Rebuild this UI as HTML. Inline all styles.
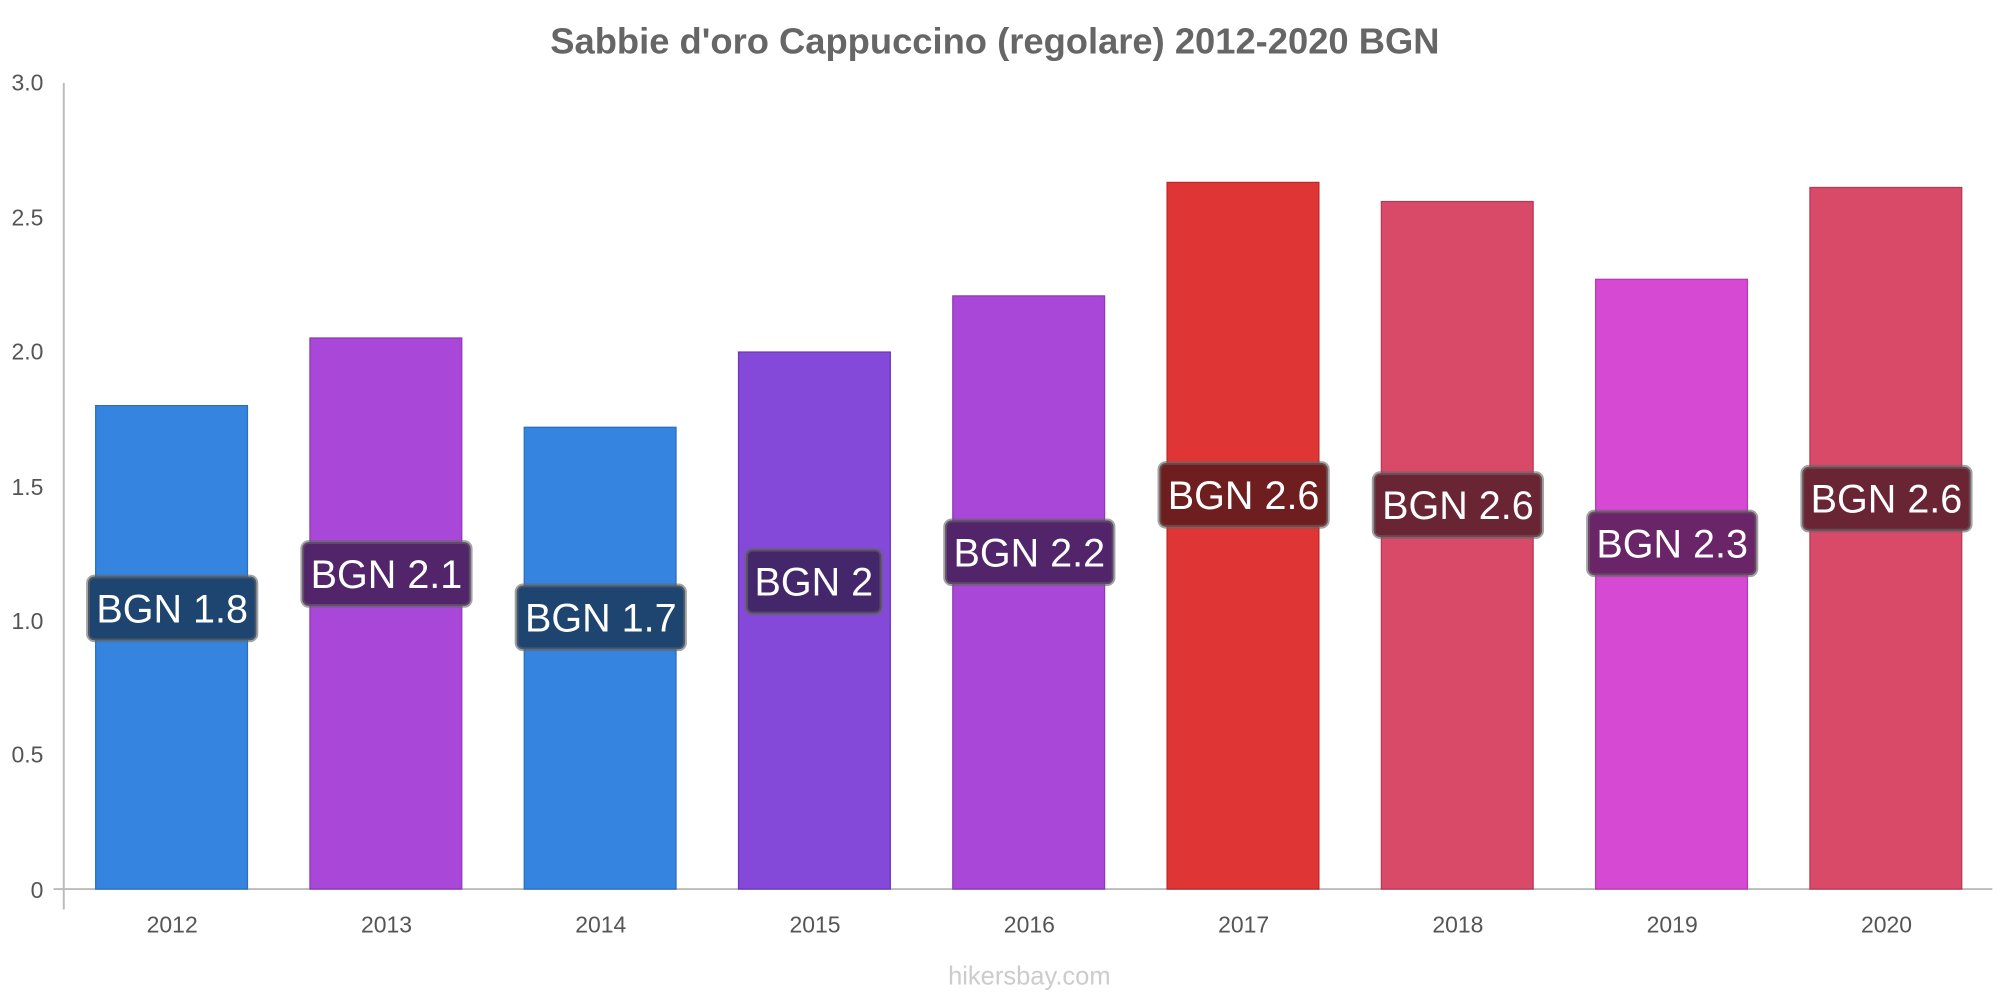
<!DOCTYPE html>
<html><head><meta charset="utf-8"><style>html,body{margin:0;padding:0;background:#fff}svg{display:block}</style></head>
<body>
<svg width="2000" height="1000" viewBox="0 0 1568 784" xmlns="http://www.w3.org/2000/svg" font-family="Liberation Sans, sans-serif">
<rect width="1568" height="784" fill="#fff"/>
<text x="780" y="42" text-anchor="middle" font-size="28.5" font-weight="bold" fill="#666">Sabbie d'oro Cappuccino (regolare) 2012-2020 BGN</text>
<g font-size="18" fill="#555" text-anchor="end">
<text x="34" y="71">3.0</text><text x="34" y="177">2.5</text><text x="34" y="282">2.0</text><text x="34" y="388">1.5</text><text x="34" y="493">1.0</text><text x="34" y="598">0.5</text><text x="34" y="704">0</text>
</g>
<line x1="50" y1="65" x2="50" y2="713" stroke="#bbb" stroke-width="1.5"/>
<line x1="42" y1="697" x2="1562" y2="697" stroke="#bbb" stroke-width="1.5"/>
<g>
<rect x="75" y="318" width="119" height="379" fill="#3584e0" stroke="#2a6fc0"/>
<rect x="243" y="265" width="119" height="432" fill="#a948d8" stroke="#8e38b8"/>
<rect x="411" y="335" width="119" height="362" fill="#3584e0" stroke="#2a6fc0"/>
<rect x="579" y="276" width="119" height="421" fill="#8449d8" stroke="#6a38b8"/>
<rect x="747" y="232" width="119" height="465" fill="#a948d8" stroke="#8e38b8"/>
<rect x="915" y="143" width="119" height="554" fill="#e03535" stroke="#c02828"/>
<rect x="1083" y="158" width="119" height="539" fill="#d84a68" stroke="#b83a55"/>
<rect x="1251" y="219" width="119" height="478" fill="#d649d3" stroke="#b838b5"/>
<rect x="1419" y="147" width="119" height="550" fill="#d84a68" stroke="#b83a55"/>
</g>
<g font-size="31" fill="#fff" text-anchor="middle">
<rect x="69" y="452" width="132" height="50" rx="5" fill="#1e4470" stroke="#666" stroke-width="3" stroke-opacity="0.6"/><text x="135" y="488">BGN 1.8</text>
<rect x="237" y="425" width="132" height="50" rx="5" fill="#52256a" stroke="#666" stroke-width="3" stroke-opacity="0.6"/><text x="303" y="461">BGN 2.1</text>
<rect x="405" y="459" width="132" height="50" rx="5" fill="#1e4470" stroke="#666" stroke-width="3" stroke-opacity="0.6"/><text x="471" y="495">BGN 1.7</text>
<rect x="585" y="431" width="106" height="50" rx="5" fill="#43276a" stroke="#666" stroke-width="3" stroke-opacity="0.6"/><text x="638" y="467">BGN 2</text>
<rect x="741" y="408" width="132" height="50" rx="5" fill="#52256a" stroke="#666" stroke-width="3" stroke-opacity="0.6"/><text x="807" y="444">BGN 2.2</text>
<rect x="909" y="363" width="132" height="50" rx="5" fill="#6e1e1e" stroke="#666" stroke-width="3" stroke-opacity="0.6"/><text x="975" y="399">BGN 2.6</text>
<rect x="1077" y="371" width="132" height="50" rx="5" fill="#6a2535" stroke="#666" stroke-width="3" stroke-opacity="0.6"/><text x="1143" y="407">BGN 2.6</text>
<rect x="1245" y="401" width="132" height="50" rx="5" fill="#6a2568" stroke="#666" stroke-width="3" stroke-opacity="0.6"/><text x="1311" y="437">BGN 2.3</text>
<rect x="1413" y="366" width="132" height="50" rx="5" fill="#6a2535" stroke="#666" stroke-width="3" stroke-opacity="0.6"/><text x="1479" y="402">BGN 2.6</text>
</g>
<g font-size="18" fill="#555" text-anchor="middle">
<text x="135" y="731">2012</text><text x="303" y="731">2013</text><text x="471" y="731">2014</text><text x="639" y="731">2015</text><text x="807" y="731">2016</text><text x="975" y="731">2017</text><text x="1143" y="731">2018</text><text x="1311" y="731">2019</text><text x="1479" y="731">2020</text>
</g>
<text x="807" y="772" text-anchor="middle" font-size="20" fill="#ccc">hikersbay.com</text>
</svg>
</body></html>
